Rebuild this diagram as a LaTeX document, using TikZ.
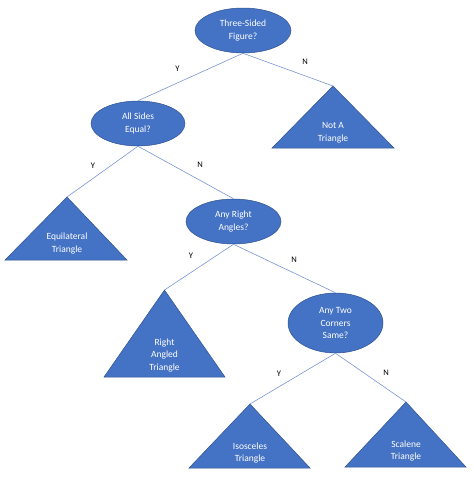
\documentclass[tikz,border=0pt]{standalone}
\usepackage{fontspec}
\setmainfont{Carlito}
\usetikzlibrary{shapes.geometric}
\definecolor{shapeblue}{HTML}{4472C4}
\definecolor{edgeblue}{HTML}{2F528F}
\definecolor{linkblue}{HTML}{7A95CF}
\tikzset{
  ell/.style={ellipse, fill=shapeblue, draw=edgeblue, line width=0.5pt, text=white, align=center,
    font=\fontsize{9.5}{12.8}\selectfont, inner sep=0pt},
  tri/.style={fill=shapeblue, draw=edgeblue, line width=0.5pt},
  tritext/.style={text=white, align=center, font=\fontsize{9.5}{12.8}\selectfont, inner sep=0pt},
  link/.style={draw=linkblue, line width=0.6pt},
  lbl/.style={text=black, font=\fontsize{8.5}{10}\selectfont, inner sep=0pt}
}
\begin{document}
\begin{tikzpicture}[x=1pt,y=-1pt]
\useasboundingbox (0,0) rectangle (474,477);
% decision ellipses
\node[ell, minimum width=96pt, minimum height=45pt] (q1) at (243,30.5) {Three-Sided\\Figure?};
\node[ell, minimum width=94pt, minimum height=45pt] (q2) at (138,123.5) {All Sides\\Equal?};
\node[ell, minimum width=95pt, minimum height=45pt] (q3) at (233.5,221.5) {Any Right\\Angles?};
\node[ell, minimum width=95pt, minimum height=60pt] (q4) at (335.5,323) {Any Two\\Corners\\Same?};
% leaf triangles
\coordinate (aNA) at (333,86);
\path[tri] (272,148) -- (aNA) -- (394,148) -- cycle;
\node[tritext] (tNA) at (333,132.5) {Not A\\Triangle};
\coordinate (aEq) at (67,197);
\path[tri] (5,260) -- (aEq) -- (127,260) -- cycle;
\node[tritext] (tEq) at (67,243.5) {Equilateral\\Triangle};
\coordinate (aRA) at (164.5,290);
\path[tri] (104,377) -- (aRA) -- (225,377) -- cycle;
\node[tritext] (tRA) at (164.5,355.5) {Right\\Angled\\Triangle};
\coordinate (aIs) at (250,404);
\path[tri] (189,468) -- (aIs) -- (310,468) -- cycle;
\node[tritext] (tIs) at (250,453) {Isosceles\\Triangle};
\coordinate (aSc) at (406,402);
\path[tri] (345,467) -- (aSc) -- (466,467) -- cycle;
\node[tritext] (tSc) at (406,451) {Scalene\\Triangle};
% connectors
\draw[link] (q1.south) -- (q2.north);
\draw[link] (q1.south) -- (aNA);
\draw[link] (q2.south) -- (aEq);
\draw[link] (q2.south) -- (q3.north);
\draw[link] (q3.south) -- (aRA);
\draw[link] (q3.south) -- (q4.north);
\draw[link] (q4.south) -- (aIs);
\draw[link] (q4.south) -- (aSc);
% labels
\node[lbl] (l1) at (177.5,69) {Y};
\node[lbl] (l2) at (305,62) {N};
\node[lbl] (l3) at (93,166) {Y};
\node[lbl] (l4) at (200,165) {N};
\node[lbl] (l5) at (191,256) {Y};
\node[lbl] (l6) at (294,260) {N};
\node[lbl] (l7) at (279,374) {Y};
\node[lbl] (l8) at (386,373) {N};
\end{tikzpicture}
\end{document}
